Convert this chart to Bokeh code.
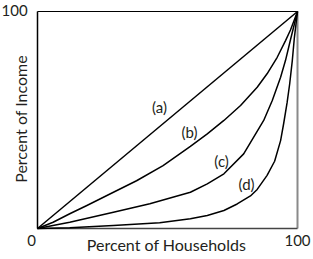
import math
from bokeh.plotting import figure
from bokeh.models import ColumnDataSource
from bokeh.core.properties import value
from bokeh.embed import file_html
from bokeh.resources import INLINE

FONT = "Lato"
TXT = "#231f20"

# Lorenz curves: percent of households (x) vs percent of income (y)
a_x = [0, 100]
a_y = [0, 100]
b_x = [0, 6.0, 12.4, 18.8, 29.2, 38.1, 48.3, 58.8, 65.3, 71.7, 78.1, 84.5, 88.3, 92.2, 95.4, 97.3, 100]
b_y = [0, 2.9, 6.8, 10.5, 16.7, 22.0, 29.0, 37.8, 43.6, 49.8, 56.7, 65.1, 71.3, 78.9, 86.6, 91.5, 100]
c_x = [0, 12.4, 29.2, 43.2, 58.8, 65.3, 71.7, 79.3, 87.0, 90.3, 93.5, 95.4, 97.3, 100]
c_y = [0, 2.9, 7.5, 11.4, 16.7, 20.6, 25.2, 34.4, 49.8, 59.0, 69.7, 77.5, 87.0, 100]
d_x = [0, 12.4, 29.2, 47.0, 58.8, 65.3, 71.7, 76.8, 81.9, 84.5, 88.3, 91.2, 93.5, 94.7, 96.0, 97.0, 98.0, 98.8, 100]
d_y = [0, 0.3, 1.4, 2.6, 4.5, 6.0, 8.3, 11.3, 15.0, 18.0, 24.5, 31.0, 40.5, 48.5, 58.0, 66.7, 77.4, 88.0, 100]

curve_names = ["(a)", "(b)", "(c)", "(d)"]
name_x = [46.9, 58.5, 70.8, 80.4]
name_y = [55.8, 44.7, 31.3, 20.7]

axis_min = 0
axis_max = 100
tick_texts = ["0", "100", "100"]
tick_x = [-2.3, 100, -8.8]
tick_y = [-5.5, -5.5, 100.5]
x_title = "Percent of Households"
y_title = "Percent of Income"

W, H = 313, 259
# frame covers the whole canvas; data 0..100 maps to px 37..297 (x) and 228..11 (y)
sx = 260 / 100.0
sy = 217 / 100.0
x0 = -37 / sx
y0 = -(H - 228) / sy
p = figure(width=W, height=H, x_range=(x0, x0 + W / sx), y_range=(y0, y0 + H / sy),
           output_backend="svg", toolbar_location=None,
           min_border=0, min_border_left=0, min_border_right=0,
           min_border_top=0, min_border_bottom=0,
           x_axis_location=None, y_axis_location=None)
p.grid.visible = False
p.outline_line_color = None
p.background_fill_color = "white"
p.border_fill_color = "white"

# frame edges (axes)
p.segment(x0=[axis_min], y0=[axis_max], x1=[axis_max], y1=[axis_max],
          line_color="black", line_width=1)
p.segment(x0=[axis_max], y0=[axis_min], x1=[axis_max], y1=[axis_max],
          line_color="#8a8a8a", line_width=2)
p.segment(x0=[axis_min], y0=[axis_min], x1=[axis_max], y1=[axis_min],
          line_color="#444444", line_width=1.5)
p.segment(x0=[axis_min], y0=[axis_min], x1=[axis_min], y1=[axis_max],
          line_color="black", line_width=1.5)

for xs, ys in [(a_x, a_y), (b_x, b_y), (c_x, c_y), (d_x, d_y)]:
    p.line(xs, ys, line_color="black", line_width=1.5, line_join="round")

src = ColumnDataSource(dict(x=name_x, y=name_y, t=curve_names))
p.text(x="x", y="y", text="t", source=src, text_font=value(FONT),
       text_font_size="15px", text_align="center", text_baseline="middle",
       text_color=TXT)

tsrc = ColumnDataSource(dict(x=tick_x, y=tick_y, t=tick_texts))
p.text(x="x", y="y", text="t", source=tsrc, text_font=value(FONT),
       text_font_size="15px", text_align="center", text_baseline="middle",
       text_color=TXT)

p.text(x=[49.6], y=[-7.4], text=[x_title], text_font=value(FONT),
       text_font_size="16px", text_align="center", text_baseline="middle",
       text_color=TXT)
p.text(x=[-6.5], y=[50.5], text=[y_title], text_font=value(FONT),
       text_font_size="16px", text_align="center", text_baseline="middle",
       angle=math.pi / 2, text_color=TXT)

open("out.html", "w").write(file_html(p, INLINE))
